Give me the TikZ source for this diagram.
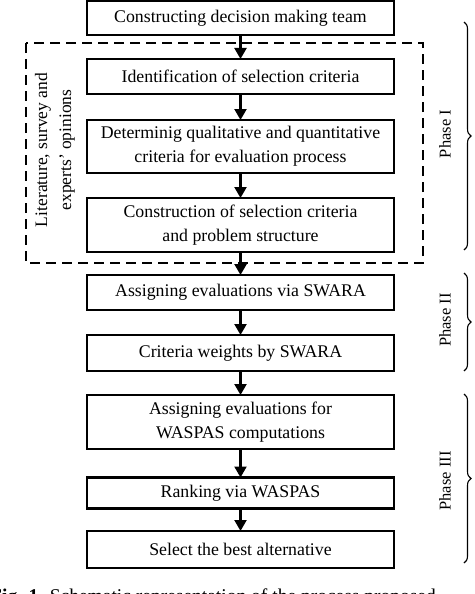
\documentclass[tikz,border=0pt]{standalone}
\usepackage{fontspec}
\setmainfont{Liberation Serif}
\usetikzlibrary{arrows.meta,decorations.pathreplacing}
\begin{document}
\begin{tikzpicture}[x=1pt,y=-1pt,
  box/.style={draw=black,line width=2.4pt,minimum width=307pt,inner sep=0pt,outer sep=0pt,align=center,font=\fontsize{17.8}{24}\selectfont},
  arr/.style={line width=2.2pt,-{Triangle[width=12pt,length=11pt]}},
  dashbox/.style={draw=black,line width=2.6pt,dash pattern=on 10pt off 6pt},
  brc/.style={decorate,decoration={brace,amplitude=7pt},line width=1.1pt},
  phase/.style={rotate=90,font=\fontsize{16.5}{18}\selectfont},
  lbl/.style={rotate=90,align=center,font=\fontsize{17.5}{24}\selectfont}]
\useasboundingbox (0,0) rectangle (474,594);
\draw[dashbox] (26,43) rectangle (423,263);
\node[box,minimum height=34pt] (b1) at (240.5,18) {Constructing decision making team};
\node[box,minimum height=35pt] (b2) at (240.5,76.5) {Identification of selection criteria};
\node[box,minimum height=53pt] (b3) at (240.5,146.5) {Determinig qualitative and quantitative\\criteria for evaluation process};
\node[box,minimum height=54pt] (b4) at (240.5,225) {Construction of selection criteria\\and problem structure};
\node[box,minimum height=35pt] (b5) at (240.5,292.5) {Assigning evaluations via SWARA};
\node[box,minimum height=36pt] (b6) at (240.5,353) {Criteria weights by SWARA};
\node[box,minimum height=54pt] (b7) at (240.5,422) {Assigning evaluations for\\WASPAS computations};
\node[box,minimum height=31pt] (b8) at (240.5,493) {Ranking via WASPAS};
\node[box,minimum height=37pt] (b9) at (240.5,549.5) {Select the best alternative};
\draw[arr] (b1) -- (b2);
\draw[arr] (b2) -- (b3);
\draw[arr] (b3) -- (b4);
\draw[arr] (b4) -- (b5);
\draw[arr] (b5) -- (b6);
\draw[arr] (b6) -- (b7);
\draw[arr] (b7) -- (b8);
\draw[arr] (b8) -- (b9);
\node[lbl] (lit) at (55,150) {Literature, survey and\\experts' opinions};
\coordinate (p1t) at (464,22);
\coordinate (p1b) at (464,250);
\coordinate (p2t) at (464,273);
\coordinate (p2b) at (464,371);
\coordinate (p3t) at (464,394);
\coordinate (p3b) at (464,563);
\draw[brc] (p1t) -- (p1b);
\draw[brc] (p2t) -- (p2b);
\draw[brc] (p3t) -- (p3b);
\node[phase] (ph1) at (445,134) {Phase I};
\node[phase] (ph2) at (445,320) {Phase II};
\node[phase] (ph3) at (445,481) {Phase III};
\node[anchor=base west,inner sep=0pt,font=\fontsize{19.5}{22}\selectfont] (cap) at (-10,602) {\textbf{Fig. 1.} Schematic representation of the process proposed.};
\end{tikzpicture}
\end{document}
